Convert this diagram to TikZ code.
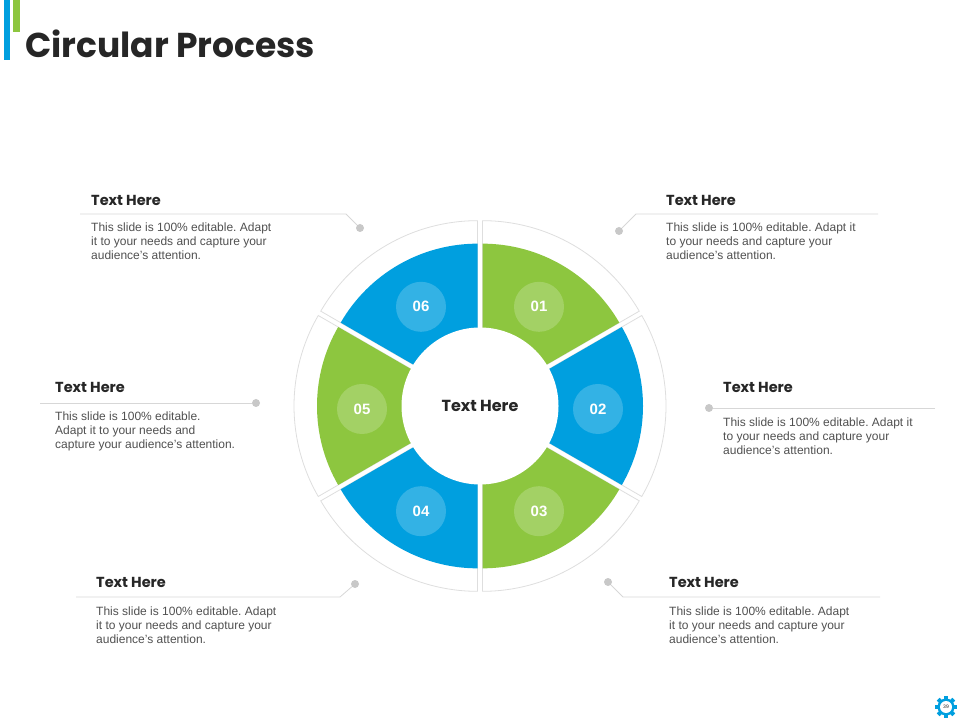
\documentclass[tikz,border=0pt]{standalone}
\usepackage{fontspec}
\setmainfont{Liberation Sans}
\newfontfamily\headfont{Poppins}
\usetikzlibrary{positioning}
\definecolor{segblue}{RGB}{0,159,223}
\definecolor{seggreen}{RGB}{141,198,63}
\definecolor{bandgray}{RGB}{222,222,222}
\definecolor{linegray}{RGB}{215,215,215}
\definecolor{dotgray}{RGB}{200,200,200}
\definecolor{headgray}{RGB}{38,38,38}
\definecolor{bodygray}{RGB}{80,80,80}
\frenchspacing

\begin{document}
\begin{tikzpicture}[x=1pt, y=1pt,
  band/.style={draw=bandgray, fill=white, line width=0.8pt},
  numdot/.style={circle, fill=white, fill opacity=0.2, text opacity=1, minimum size=50pt, inner sep=0pt, text=white, font=\bfseries\fontsize{15}{15}\selectfont},
  hub/.style={circle, fill=white, minimum size=157pt, inner sep=0pt, text=headgray, font=\headfont\bfseries\fontsize{16}{16}\selectfont},
  head/.style={anchor=base west, inner sep=0pt, text=headgray, font=\headfont\bfseries\fontsize{14.5}{14.5}\selectfont},
  body/.style={anchor=north west, inner sep=0pt, align=left, text=bodygray, font=\fontsize{12}{14}\selectfont},
  dot/.style={circle, fill=dotgray, minimum size=8pt, inner sep=0pt},
  link/.style={draw=linegray, line width=0.8pt}]
\useasboundingbox (0,0) rectangle (960,720);

% title bars
\fill[segblue] (4,720) rectangle (10,660);
\fill[seggreen] (13,720) rectangle (20,688);
\node[anchor=base west, inner sep=0pt, text=headgray, font=\headfont\bfseries\fontsize{34.5}{34.5}\selectfont] (title) at (25,662) {Circular Process};

% ring
\coordinate (c) at (480,314);
\foreach \n/\a/\col in {01/60/seggreen, 02/0/segblue, 03/-60/seggreen, 04/-120/segblue, 05/180/seggreen, 06/120/segblue}{
  \pgfmathsetmacro\s{\a-30}
  \pgfmathsetmacro\e{\a+30}
  \draw[band] ([shift={(\a:5pt)}]c) -- ++(\s:181pt) arc[start angle=\s, end angle=\e, radius=181pt] -- cycle;
  \fill[\col] ([shift={(\a:5pt)}]c) -- ++(\s:158pt) arc[start angle=\s, end angle=\e, radius=158pt] -- cycle;
  \node[numdot] (n\n) at ([shift={(\a:118pt)}, yshift=-3pt]c) {\n};
}
\node[hub] (mid) at (c) {Text Here};

% top left
\node[head] (tlh) at (91,514) {Text Here};
\node[body] (tlb) at (91,497) {This slide is 100\% editable. Adapt\\it to your needs and capture your\\audience's attention.};
\coordinate (tl0) at (80,506);
\coordinate (tl1) at (346,506);
\node[dot] (tld) at (360,492) {};
\draw[link] (tl0) -- (tl1) -- (tld);

% top right
\node[head] (trh) at (666,514) {Text Here};
\node[body] (trb) at (666,497) {This slide is 100\% editable. Adapt it\\to your needs and capture your\\audience's attention.};
\coordinate (tr0) at (878,506);
\coordinate (tr1) at (636,506);
\node[dot] (trd) at (619,489) {};
\draw[link] (tr0) -- (tr1) -- (trd);

% middle left
\node[head] (mlh) at (55,327) {Text Here};
\node[body] (mlb) at (55,308) {This slide is 100\% editable.\\Adapt it to your needs and\\capture your audience's attention.};
\coordinate (ml0) at (40,317);
\node[dot] (mld) at (256,317) {};
\draw[link] (ml0) -- (mld);

% middle right
\node[head] (mrh) at (723,327) {Text Here};
\node[body] (mrb) at (723,302) {This slide is 100\% editable. Adapt it\\to your needs and capture your\\audience's attention.};
\coordinate (mr0) at (935,312);
\node[dot] (mrd) at (709,312) {};
\draw[link] (mr0) -- (mrd);

% bottom left
\node[head] (blh) at (96,133) {Text Here};
\node[body] (blb) at (96,113) {This slide is 100\% editable. Adapt\\it to your needs and capture your\\audience's attention.};
\coordinate (bl0) at (76,123);
\coordinate (bl1) at (340,123);
\node[dot] (bld) at (355,136) {};
\draw[link] (bl0) -- (bl1) -- (bld);

% bottom right
\node[head] (brh) at (669,133) {Text Here};
\node[body] (brb) at (669,113) {This slide is 100\% editable. Adapt\\it to your needs and capture your\\audience's attention.};
\coordinate (br0) at (880,123);
\coordinate (br1) at (623,123);
\node[dot] (brd) at (608,138) {};
\draw[link] (br0) -- (br1) -- (brd);

% page badge
\coordinate (g) at (946,13);
\fill[segblue] (g) circle[radius=8.5pt];
\foreach \t in {0,45,...,315}
  \fill[segblue, rotate around={\t:(g)}] ([shift={(-2pt,6pt)}]g) rectangle ([shift={(2pt,11pt)}]g);
\node[circle, fill=white, minimum size=12pt, inner sep=0pt, text=headgray, font=\fontsize{5}{5}\selectfont] (page) at (g) {39};
\end{tikzpicture}
\end{document}
